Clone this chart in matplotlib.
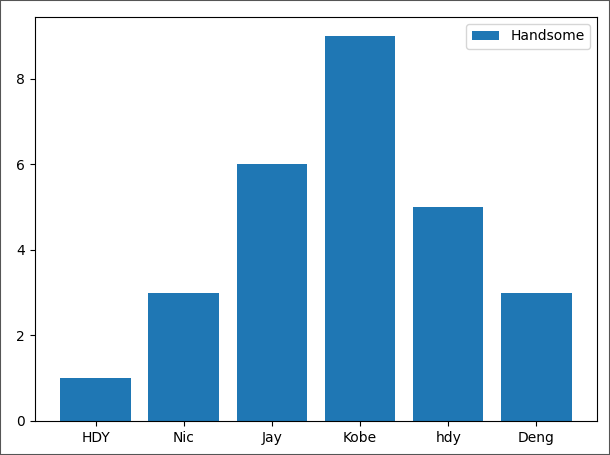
import matplotlib
matplotlib.use("Agg")
import matplotlib.pyplot as plt
from matplotlib.patches import Rectangle

names = ['HDY', 'Nic', 'Jay', 'Kobe', 'hdy', 'Deng']
values = [1, 3, 6, 9, 5, 3]

fig = plt.figure(figsize=(6.1, 4.55), dpi=100)
ax = fig.add_axes([0.057, 0.075, 0.922, 0.888])
ax.bar(names, values, label='Handsome')
ax.legend(loc='upper right')

# thin frame around the whole figure
fig.patches.append(Rectangle((0, 0), 1, 1, transform=fig.transFigure,
                             fill=False, edgecolor='#555555', linewidth=1.5))

fig.savefig('out.png', dpi=100)
